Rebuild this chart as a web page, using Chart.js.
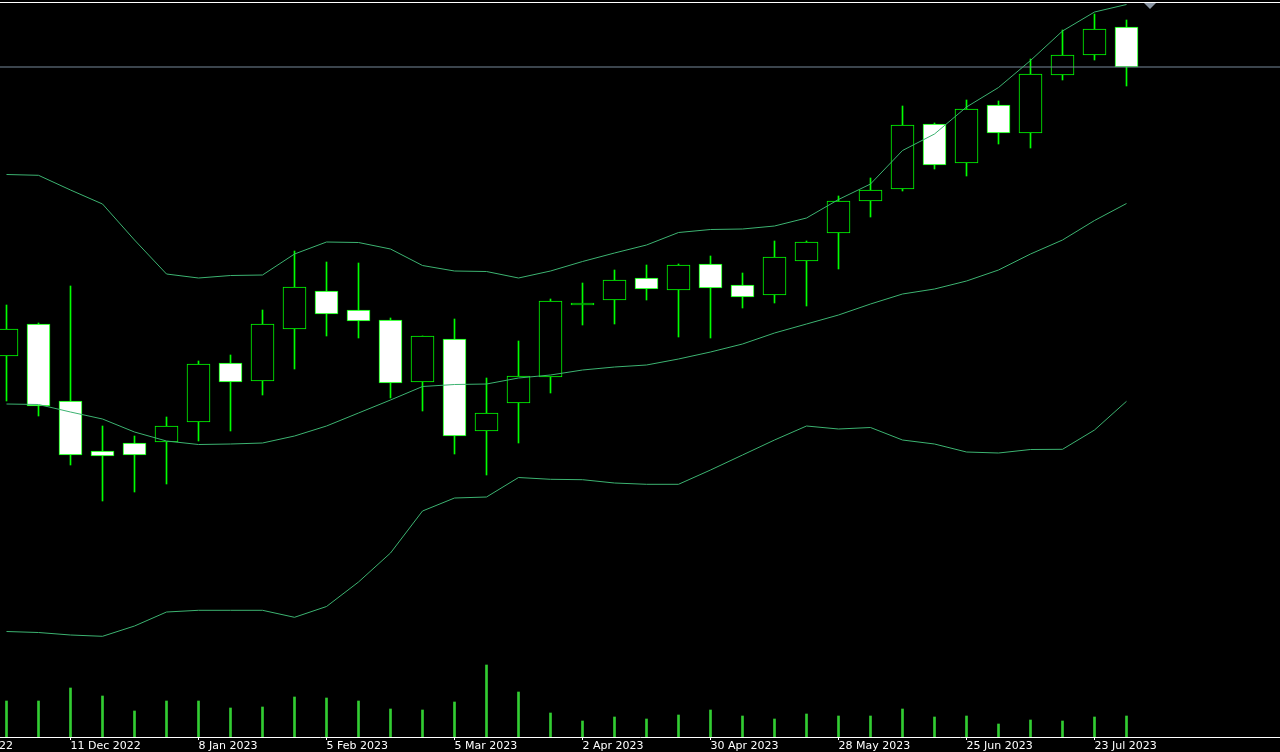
<!DOCTYPE html>
<html>
<head>
<meta charset="utf-8">
<script src="https://cdn.jsdelivr.net/npm/chart.js@4"></script>
<style>
  html, body { margin: 0; padding: 0; background: #000; overflow: hidden; }
  canvas { display: block; }
</style>
</head>
<body>
<canvas id="chart" width="1280" height="752"></canvas>
<script>
// Weekly candles (week start), Bollinger bands and tick volume

const weeks = [
  "27 Nov 2022", "4 Dec 2022", "11 Dec 2022", "18 Dec 2022", "25 Dec 2022", "1 Jan 2023",
  "8 Jan 2023", "15 Jan 2023", "22 Jan 2023", "29 Jan 2023", "5 Feb 2023", "12 Feb 2023",
  "19 Feb 2023", "26 Feb 2023", "5 Mar 2023", "12 Mar 2023", "19 Mar 2023", "26 Mar 2023",
  "2 Apr 2023", "9 Apr 2023", "16 Apr 2023", "23 Apr 2023", "30 Apr 2023", "7 May 2023",
  "14 May 2023", "21 May 2023", "28 May 2023", "4 Jun 2023", "11 Jun 2023", "18 Jun 2023",
  "25 Jun 2023", "2 Jul 2023", "9 Jul 2023", "16 Jul 2023", "23 Jul 2023", "30 Jul 2023"
];

const open  = [38.1, 41.3, 33.6, 28.6, 29.4, 29.5, 31.5, 37.4, 35.6, 40.8, 44.6, 42.7,
               41.7, 35.5, 39.8, 30.6, 33.4, 36.0, 43.2, 43.7, 45.9, 44.7, 47.3, 45.2,
               44.2, 47.6, 50.4, 53.6, 54.8, 61.3, 57.4, 63.2, 60.4, 66.2, 68.2, 71.0];
const high  = [43.2, 41.4, 45.1, 31.1, 30.1, 32.0, 37.6, 38.2, 42.7, 48.6, 47.5, 47.4,
               41.9, 40.1, 41.8, 35.9, 39.6, 43.8, 45.4, 46.7, 47.2, 47.3, 48.1, 46.4,
               49.6, 49.6, 54.1, 55.9, 63.1, 61.4, 63.7, 63.6, 67.8, 70.7, 72.3, 71.7];
const low   = [33.6, 32.1, 27.2, 23.6, 24.5, 25.3, 29.6, 30.6, 34.2, 36.8, 40.1, 39.9,
               33.9, 32.6, 28.3, 26.2, 29.4, 34.4, 41.2, 41.3, 43.7, 40.0, 39.9, 42.9,
               43.4, 43.1, 46.8, 52.0, 54.6, 56.8, 56.1, 59.3, 58.9, 65.7, 67.7, 65.1];
const close = [40.8, 33.1, 28.2, 28.1, 28.2, 31.1, 37.3, 35.5, 41.3, 45.0, 42.3, 41.6,
               35.4, 40.1, 30.1, 32.4, 36.1, 43.6, 43.2, 45.7, 44.8, 47.2, 44.9, 44.0,
               48.0, 49.5, 53.6, 54.7, 61.2, 57.2, 62.8, 60.4, 66.3, 68.2, 70.8, 67.0];

const bbUpper  = [56.25, 56.17, 54.7, 53.3, 49.7, 46.3, 45.9, 46.15, 46.2, 48.3, 49.5, 49.45,
                  48.8, 47.15, 46.6, 46.55, 45.9, 46.6, 47.55, 48.4, 49.2, 50.45, 50.75, 50.8,
                  51.1, 51.9, 53.75, 55.3, 58.65, 60.3, 63.0, 64.95, 67.65, 70.6, 72.5, 73.25];
const bbMiddle = [33.3, 33.25, 32.5, 31.8, 30.5, 29.6, 29.25, 29.3, 29.4, 30.1, 31.1, 32.4,
                  33.7, 35.05, 35.25, 35.3, 35.9, 36.2, 36.7, 37.0, 37.2, 37.8, 38.5, 39.3,
                  40.4, 41.3, 42.2, 43.3, 44.3, 44.8, 45.6, 46.7, 48.3, 49.7, 51.65, 53.35];
const bbLower  = [10.55, 10.45, 10.2, 10.07, 11.1, 12.5, 12.67, 12.67, 12.67, 11.97, 13.05, 15.5,
                  18.4, 22.6, 23.9, 24.0, 25.95, 25.77, 25.73, 25.4, 25.27, 25.27, 26.7, 28.2,
                  29.7, 31.1, 30.8, 30.95, 29.7, 29.3, 28.5, 28.4, 28.75, 28.77, 30.7, 33.57];

const volume = [3600, 3600, 4900, 4100, 2600, 3600, 3600, 2900, 3000, 4000, 3900, 3600,
                2800, 2700, 3500, 7200, 4500, 2400, 1600, 2000, 1800, 2200, 2700, 2100,
                1800, 2300, 2100, 2100, 2800, 2000, 2100, 1300, 1700, 1600, 2000, 2100];

// date labels on the time axis (week index; -2 is the partly hidden one on the left)
const axisTickIndex  = [-2, 2, 6, 10, 14, 18, 22, 26, 30, 34];
const axisTickLabels = ["13 Nov 2022", "11 Dec 2022", "8 Jan 2023", "5 Feb 2023", "5 Mar 2023",
                        "2 Apr 2023", "30 Apr 2023", "28 May 2023", "25 Jun 2023", "23 Jul 2023"];

// visible window in bars (chart is shifted, empty space on the right)
const X_MIN = -0.203125;
const X_MAX = 39.796875;
const PRICE_MIN = 0;
const PRICE_MAX = 73.5;
const VOLUME_MAX = 73500;
const SHIFT_X = 1150;

const GREEN = '#00ff00';
const BAND = '#3cb371';
const VOL = '#32cd32';
const PRICE_LINE = '#778899';

const pts = (arr) => arr.map((v, i) => ({ x: i, y: v }));
const last = close[close.length - 1];

const chartFrame = {
  id: 'chartFrame',
  afterDraw(chart) {
    const { ctx, chartArea } = chart;
    const top = chartArea.top;
    ctx.save();
    ctx.strokeStyle = '#ffffff';
    ctx.lineWidth = 1;
    ctx.beginPath();
    ctx.moveTo(0, top + 0.5);
    ctx.lineTo(chart.width, top + 0.5);
    ctx.stroke();
    // chart shift marker
    ctx.fillStyle = '#8a95a3';
    ctx.beginPath();
    ctx.moveTo(SHIFT_X - 6, top + 1);
    ctx.lineTo(SHIFT_X + 6, top + 1);
    ctx.lineTo(SHIFT_X, top + 7);
    ctx.closePath();
    ctx.fill();
    ctx.restore();
  }
};

const ctx = document.getElementById('chart').getContext('2d');

new Chart(ctx, {
  type: 'bar',
  data: {
    datasets: [
      {
        type: 'line',
        label: 'BB upper',
        data: pts(bbUpper),
        borderColor: BAND,
        borderWidth: 1,
        pointRadius: 0,
        tension: 0,
        order: 0
      },
      {
        type: 'line',
        label: 'BB middle',
        data: pts(bbMiddle),
        borderColor: BAND,
        borderWidth: 1,
        pointRadius: 0,
        tension: 0,
        order: 0
      },
      {
        type: 'line',
        label: 'BB lower',
        data: pts(bbLower),
        borderColor: BAND,
        borderWidth: 1,
        pointRadius: 0,
        tension: 0,
        order: 0
      },
      {
        type: 'line',
        label: 'Bid',
        data: [{ x: X_MIN, y: last }, { x: X_MAX, y: last }],
        borderColor: PRICE_LINE,
        borderWidth: 1,
        pointRadius: 0,
        order: 0
      },
      {
        type: 'bar',
        label: 'Body',
        data: weeks.map((w, i) => ({ x: i, y: [open[i], close[i]] })),
        backgroundColor: (c) => close[c.dataIndex] < open[c.dataIndex] ? '#ffffff' : '#000000',
        borderColor: GREEN,
        borderWidth: 1,
        borderSkipped: false,
        barThickness: 23,
        minBarLength: 2, // doji still shows as a flat line
        grouped: false,
        order: 1
      },
      {
        type: 'bar',
        label: 'Wick',
        data: weeks.map((w, i) => ({ x: i, y: [low[i], high[i]] })),
        backgroundColor: GREEN,
        borderWidth: 0,
        barThickness: 1,
        grouped: false,
        order: 2
      },
      {
        type: 'bar',
        label: 'Volume',
        yAxisID: 'yv',
        data: pts(volume),
        backgroundColor: VOL,
        borderWidth: 0,
        barThickness: 2,
        grouped: false,
        order: 3
      }
    ]
  },
  options: {
    responsive: false,
    animation: false,
    layout: { padding: { top: 2, left: 0, right: 0, bottom: 0 } },
    scales: {
      x: {
        type: 'linear',
        min: X_MIN,
        max: X_MAX,
        offset: false,
        afterBuildTicks: (scale) => {
          scale.ticks = axisTickIndex.map(v => ({ value: v }));
        },
        afterFit: (scale) => {
          // labels run off the left edge like in the terminal, no extra padding
          scale.paddingLeft = 0;
          scale.paddingRight = 0;
        },
        grid: {
          display: true,
          drawOnChartArea: false,
          drawTicks: true,
          tickLength: 3,
          color: '#ffffff',
          offset: false
        },
        border: { display: true, color: '#ffffff', width: 1 },
        ticks: {
          autoSkip: false,
          maxRotation: 0,
          align: 'start',
          padding: 0.5,
          color: '#ffffff',
          font: { family: 'DejaVu Sans', size: 11, lineHeight: 1 },
          callback: (value, index) => axisTickLabels[index]
        }
      },
      y: {
        display: false,
        min: PRICE_MIN,
        max: PRICE_MAX
      },
      yv: {
        display: false,
        position: 'left',
        min: 0,
        max: VOLUME_MAX
      }
    },
    plugins: {
      legend: { display: false },
      tooltip: { enabled: false }
    }
  },
  plugins: [chartFrame]
});
</script>
</body>
</html>
